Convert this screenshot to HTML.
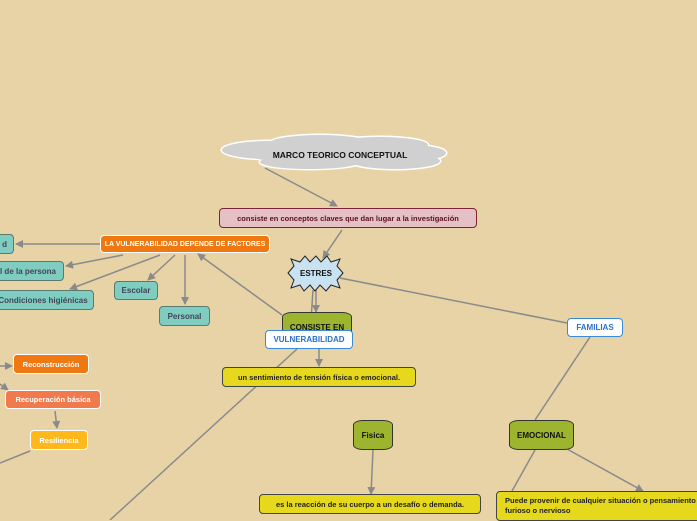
<!DOCTYPE html>
<html><head><meta charset="utf-8"><style>
body{margin:0;width:697px;height:520px;overflow:hidden;background:#e8d3a7;font-family:"Liberation Sans",sans-serif;position:relative}
.b{position:absolute;box-sizing:border-box;display:flex;align-items:center;justify-content:center;font-weight:bold;font-size:8px;border-radius:4px;white-space:nowrap}
.t{background:#7ecdc0;border:1.5px solid #5a7a70;color:#445}
.cy{background:#9db52e;border:1.5px solid #333;border-radius:10px/5px;color:#111}
.y{background:#e6d81c;border:1.5px solid #444;color:#222}
svg{position:absolute;left:0;top:0}
</style></head><body>
<svg width="697" height="520">
<defs><marker id="a" markerWidth="8" markerHeight="8" refX="7" refY="4" orient="auto" markerUnits="userSpaceOnUse"><path d="M0,0 L8,4 L0,8z" fill="#8a8a8a"/></marker></defs>
<g fill="#d0d0d0" stroke="#ffffff" stroke-width="3">
<ellipse cx="270" cy="150" rx="48" ry="9"/>
<ellipse cx="320" cy="143" rx="50" ry="8"/>
<ellipse cx="380" cy="145" rx="48" ry="8"/>
<ellipse cx="410" cy="153" rx="36" ry="8"/>
<ellipse cx="395" cy="161" rx="45" ry="8"/>
<ellipse cx="310" cy="162" rx="50" ry="7"/>
</g>
<g fill="#d0d0d0" stroke="none">
<ellipse cx="270" cy="150" rx="48" ry="9"/>
<ellipse cx="320" cy="143" rx="50" ry="8"/>
<ellipse cx="380" cy="145" rx="48" ry="8"/>
<ellipse cx="410" cy="153" rx="36" ry="8"/>
<ellipse cx="395" cy="161" rx="45" ry="8"/>
<ellipse cx="310" cy="162" rx="50" ry="7"/>
<ellipse cx="340" cy="154" rx="95" ry="10"/>
</g>
<g stroke="#8a8a8a" stroke-width="1.5" fill="none">
<path d="M265,168 L337,206" marker-end="url(#a)"/>
<path d="M342,230 L323,258" marker-end="url(#a)"/>
<path d="M100,244 L16,244" marker-end="url(#a)"/>
<path d="M123,255 L66,266" marker-end="url(#a)"/>
<path d="M160,255 L70,289" marker-end="url(#a)"/>
<path d="M175,255 L148,280" marker-end="url(#a)"/>
<path d="M185,255 L185,304" marker-end="url(#a)"/>
<path d="M282,315 L198,254" marker-end="url(#a)"/>
<path d="M313,290 L311,320"/>
<path d="M316,290 L316,312" marker-end="url(#a)"/>
<path d="M340,278 L567,323"/>
<path d="M590,337 L535,420"/>
<path d="M319,349 L319,366" marker-end="url(#a)"/>
<path d="M297,349 L110,520"/>
<path d="M373,450 L371,494" marker-end="url(#a)"/>
<path d="M535,450 L512,491"/>
<path d="M567,449 L643,491" marker-end="url(#a)"/>
<path d="M30,451 L0,463"/>
<path d="M55,411 L57,428" marker-end="url(#a)"/>
<path d="M0,366 L12,366" marker-end="url(#a)"/>
<path d="M0,384 L8,390" marker-end="url(#a)"/>
<polygon points="288,273 294,266 291,259 300,262 305,256 310,262 316,256 321,262 327,256 331,262 340,259 337,266 343,273 337,280 340,288 331,285 326,291 320,285 315,291 310,285 304,291 300,285 291,288 294,280" fill="#c8e2f2" stroke="#222" stroke-width="1"/>
</g></svg>
<div class="b" style="left:240px;top:147px;width:200px;height:16px;font-size:8.5px;color:#111">MARCO TEORICO CONCEPTUAL</div>
<div class="b" style="left:219px;top:208px;width:258px;height:20px;background:#e5c1c6;border:1.5px solid #7a2535;color:#5a1020;font-size:7.5px">consiste en conceptos claves que dan lugar a la investigación</div>
<div class="b" style="left:100px;top:235px;width:170px;height:18px;background:#ef7910;border:1px solid #fff;color:#fff;font-size:7px">LA VULNERABILIDAD DEPENDE DE FACTORES</div>
<div class="b t" style="left:-8px;top:234px;width:22px;height:20px;justify-content:flex-end;padding-right:6px">d</div>
<div class="b t" style="left:-8px;top:261px;width:72px;height:20px">l de la persona</div>
<div class="b t" style="left:-8px;top:290px;width:102px;height:20px">Condiciones higiénicas</div>
<div class="b t" style="left:114px;top:281px;width:44px;height:19px">Escolar</div>
<div class="b t" style="left:159px;top:306px;width:51px;height:20px">Personal</div>
<div class="b" style="left:295px;top:265px;width:42px;height:16px;color:#111">ESTRES</div>
<div class="b cy" style="left:282px;top:312px;width:70px;height:30px;align-items:flex-start;padding-top:10px">CONSISTE EN</div>
<div class="b" style="left:265px;top:330px;width:88px;height:19px;background:#fff;border:1px solid #3a8ad8;color:#2a70c8">VULNERABILIDAD</div>
<div class="b" style="left:567px;top:318px;width:56px;height:19px;background:#fff;border:1px solid #3a8ad8;color:#2a70c8">FAMILIAS</div>
<div class="b y" style="left:222px;top:367px;width:194px;height:20px;font-size:7.5px">un sentimiento de tensión física o emocional.</div>
<div class="b" style="left:13px;top:354px;width:76px;height:20px;background:#ef7910;border:1px solid #fff;color:#fff;font-size:7.5px">Reconstrucción</div>
<div class="b" style="left:5px;top:390px;width:96px;height:19px;background:#f07a4c;border:1px solid #fff;color:#fff;font-size:7.5px">Recuperación básica</div>
<div class="b" style="left:30px;top:430px;width:58px;height:20px;background:#ffb81c;border:1px solid #fff;color:#fff;font-size:7.5px">Resiliencia</div>
<div class="b cy" style="left:353px;top:420px;width:40px;height:30px">Fisica</div>
<div class="b cy" style="left:509px;top:420px;width:65px;height:30px">EMOCIONAL</div>
<div class="b y" style="left:259px;top:494px;width:222px;height:20px;font-size:7.5px">es la reacción de su cuerpo a un desafío o demanda.</div>
<div class="b y" style="left:496px;top:491px;width:210px;height:30px;font-size:7.5px;justify-content:flex-start;padding-left:8px;white-space:normal;line-height:10px;text-align:left">Puede provenir de cualquier situación o pensamiento furioso o nervioso</div>
</body></html>
